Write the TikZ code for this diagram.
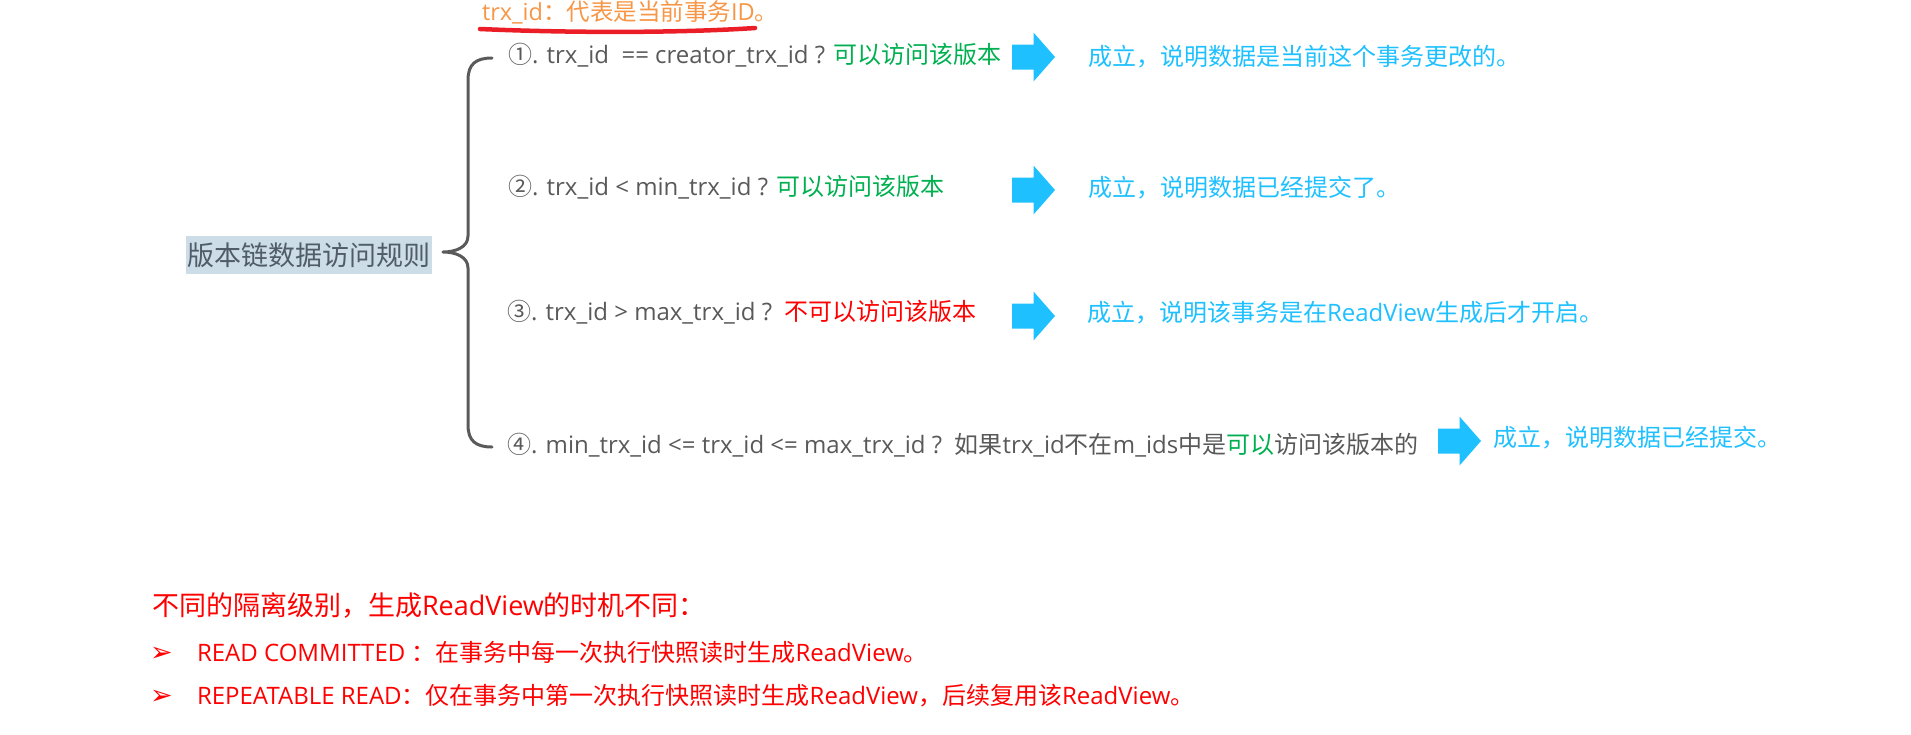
\documentclass[tikz,border=0pt]{standalone}
\usepackage{fontspec}
\setmainfont{Open Sans}
\newfontfamily\zhfont{Noto Sans CJK SC}
\newfontfamily\dvfont{DejaVu Sans}
\newcommand\zh[1]{{\zhfont #1}}
\definecolor{graytext}{RGB}{89,89,89}
\definecolor{okgreen}{RGB}{0,176,80}
\definecolor{pptred}{RGB}{255,0,0}
\definecolor{skyblue}{RGB}{30,192,255}
\definecolor{orangetxt}{RGB}{247,150,70}
\definecolor{underred}{RGB}{235,30,40}
\definecolor{boxfill}{RGB}{204,221,232}
\definecolor{boxtext}{RGB}{80,92,104}
\definecolor{bracegray}{RGB}{90,90,90}
\tikzset{
  rowtext/.style={anchor=base west, inner sep=0pt, outer sep=0pt, text=graytext, font=\fontsize{24}{29}\selectfont},
  resulttext/.style={anchor=base west, inner sep=0pt, outer sep=0pt, text=skyblue, font=\fontsize{24}{29}\selectfont},
  redtext/.style={anchor=base west, inner sep=0pt, outer sep=0pt, text=pptred, font=\fontsize{24}{29}\selectfont},
  bulletmark/.style={anchor=base west, inner sep=0pt, outer sep=0pt, text=pptred, font=\dvfont\fontsize{27}{30}\selectfont},
  bracepath/.style={draw=bracegray, line width=3pt, line cap=round, line join=round},
  blockarrow/.pic={\fill[skyblue] (0,-12.5) -- (21.5,-12.5) -- (21.5,-24.5) -- (43,0) -- (21.5,24.5) -- (21.5,12.5) -- (0,12.5) -- cycle;}
}
\begin{document}
\begin{tikzpicture}[x=1pt,y=-1pt]
\useasboundingbox (0,0) rectangle (1911,734);
% title and underline
\node[anchor=base west, inner sep=0pt, outer sep=0pt, text=orangetxt, font=\fontsize{23.5}{28}\selectfont] (title) at (482,20) {trx\_id\zh{：代表是当前事务}ID\zh{。}};
\draw[line width=4.5pt, color=underred, line cap=round] (480,29) .. controls (570,33) and (680,33) .. (755,28);
% root box
\node[fill=boxfill, minimum width=246pt, minimum height=38pt, inner sep=0pt, text=boxtext, font=\fontsize{27}{30}\selectfont\zhfont] (rules) at (309,255) {版本链数据访问规则};
% brace
\draw[bracepath] (492,58) .. controls (476,58) and (468,64) .. (468,80) -- (468,236) .. controls (468,247) and (456,252) .. (443,252) .. controls (456,252) and (468,257) .. (468,268) -- (468,425) .. controls (468,441) and (476,447) .. (492,447);
% conditions
\node[rowtext] (c1) at (508,63) {\zh{①}. trx\_id\ \ == creator\_trx\_id ? \textcolor{okgreen}{\zh{可以访问该版本}}};
\node[rowtext] (c2) at (508,195) {\zh{②}. trx\_id < min\_trx\_id ? \textcolor{okgreen}{\zh{可以访问该版本}}};
\node[rowtext] (c3) at (507,320) {\zh{③}. trx\_id > max\_trx\_id ?\ \ \textcolor{pptred}{\zh{不可以访问该版本}}};
\node[rowtext] (c4) at (507,453) {\zh{④}. min\_trx\_id <= trx\_id <= max\_trx\_id ?\ \ \zh{如果}trx\_id\zh{不在}m\_ids\zh{中是}\textcolor{okgreen}{\zh{可以}}\zh{访问该版本的}};
% block arrows
\pic at (1012,57) {blockarrow};
\pic at (1012,190) {blockarrow};
\pic at (1012,316) {blockarrow};
\pic at (1438,441) {blockarrow};
% results
\node[resulttext] (o1) at (1088,65) {\zh{成立，说明数据是当前这个事务更改的。}};
\node[resulttext] (o2) at (1088,196) {\zh{成立，说明数据已经提交了。}};
\node[resulttext] (o3) at (1087,321) {\zh{成立，说明该事务是在}ReadView\zh{生成后才开启。}};
\node[resulttext] (o4) at (1493,446) {\zh{成立，说明数据已经提交。}};
% bottom notes
\node[redtext, font=\fontsize{27}{32}\selectfont] (lvl) at (152,615) {\zh{不同的隔离级别，生成}ReadView\zh{的时机不同：}};
\node[bulletmark] (b1) at (150,661) {➢};
\node[redtext] (rc) at (197,661) {READ COMMITTED \zh{：在事务中每一次执行快照读时生成}ReadView\zh{。}};
\node[bulletmark] (b2) at (150,704) {➢};
\node[redtext] (rr) at (197,704) {REPEATABLE READ\zh{：仅在事务中第一次执行快照读时生成}ReadView\zh{，后续复用该}ReadView\zh{。}};
\end{tikzpicture}
\end{document}
